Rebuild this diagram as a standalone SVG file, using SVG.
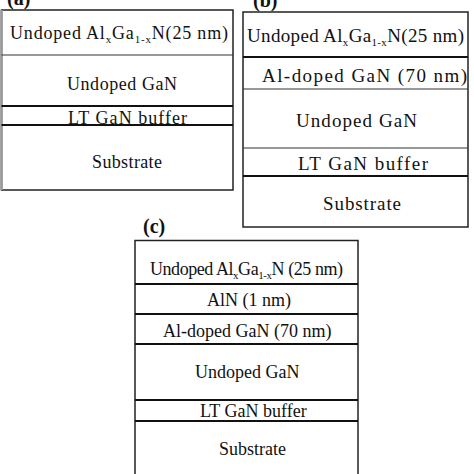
<svg xmlns="http://www.w3.org/2000/svg" width="474" height="474" viewBox="0 0 474 474">
<style>
text{font-family:"Liberation Serif","Times New Roman",serif;fill:#111}
.pa{font-size:18px}
.pb{font-size:19px}
.pc{font-size:18px}
.sub{font-size:11px}
.box{fill:#fff;stroke:#222;stroke-width:1.5}
.ln{stroke:#111;stroke-width:2}
.ln1{stroke:#333;stroke-width:1.2}
.lbl{font-size:20px;font-weight:bold}
</style>
<rect width="474" height="474" fill="#fff"/>
<g id="panel-a">
<text class="lbl" x="7" y="5">(a)</text>
<rect class="box" x="1.5" y="10" width="231.5" height="180"/>
<line x1="1.5" y1="10" x2="1.5" y2="190" stroke="#999" stroke-width="2.5"/>
<g id="a-layers">
<line class="ln1" x1="1.5" y1="55" x2="233" y2="55"/>
<line class="ln" x1="1.5" y1="106" x2="233" y2="106"/>
<line class="ln" x1="1.5" y1="125" x2="233" y2="125"/>
</g>
<text class="pa" x="10" y="39" textLength="218" lengthAdjust="spacing">Undoped Al<tspan class="sub" dy="4">x</tspan><tspan dy="-4">Ga</tspan><tspan class="sub" dy="4">1-x</tspan><tspan dy="-4">N(25 nm)</tspan></text>
<text class="pa" x="67" y="90" textLength="110" lengthAdjust="spacing">Undoped GaN</text>
<text class="pa" x="68" y="124" textLength="119" lengthAdjust="spacing">LT GaN buffer</text>
<text class="pa" x="92" y="168" textLength="70" lengthAdjust="spacing">Substrate</text>
</g>
<g id="panel-b">
<text class="lbl" x="253" y="7">(b)</text>
<rect class="box" x="243" y="12" width="225" height="215" stroke="#666" stroke-width="1.2"/>
<g id="b-layers">
<line class="ln" x1="243" y1="57" x2="468" y2="57"/>
<line class="ln1" x1="243" y1="89" x2="468" y2="89"/>
<line class="ln1" x1="243" y1="148" x2="468" y2="148"/>
<line class="ln" x1="243" y1="176" x2="468" y2="176"/>
</g>
<text class="pb" x="247" y="42" textLength="217" lengthAdjust="spacing">Undoped Al<tspan class="sub" dy="4">x</tspan><tspan dy="-4">Ga</tspan><tspan class="sub" dy="4">1-x</tspan><tspan dy="-4">N(25 nm)</tspan></text>
<text class="pb" x="262" y="82" textLength="205" lengthAdjust="spacing">Al-doped GaN (70 nm)</text>
<text class="pb" x="296" y="127" textLength="121" lengthAdjust="spacing">Undoped GaN</text>
<text class="pb" x="298" y="170" textLength="130" lengthAdjust="spacing">LT GaN buffer</text>
<text class="pb" x="323" y="210" textLength="78" lengthAdjust="spacing">Substrate</text>
</g>
<g id="panel-c">
<text class="lbl" x="143" y="233">(c)</text>
<rect class="box" x="135" y="240.5" width="223" height="240" stroke-width="2"/>
<g id="c-layers">
<line class="ln" x1="135" y1="284" x2="358" y2="284"/>
<line class="ln" x1="135" y1="314" x2="358" y2="314"/>
<line class="ln" x1="135" y1="344" x2="358" y2="344"/>
<line class="ln" x1="135" y1="400" x2="358" y2="400"/>
<line class="ln" x1="135" y1="421" x2="358" y2="421"/>
</g>
<text class="pc" x="150" y="275" textLength="193" lengthAdjust="spacing">Undoped Al<tspan class="sub" dy="4">x</tspan><tspan dy="-4">Ga</tspan><tspan class="sub" dy="4">1-x</tspan><tspan dy="-4">N (25 nm)</tspan></text>
<text class="pc" x="207" y="306">AlN (1 nm)</text>
<text class="pc" x="163" y="337">Al-doped GaN (70 nm)</text>
<text class="pc" x="195" y="378">Undoped GaN</text>
<text class="pc" x="200" y="417">LT GaN buffer</text>
<text class="pc" x="219" y="455">Substrate</text>
</g>
</svg>
